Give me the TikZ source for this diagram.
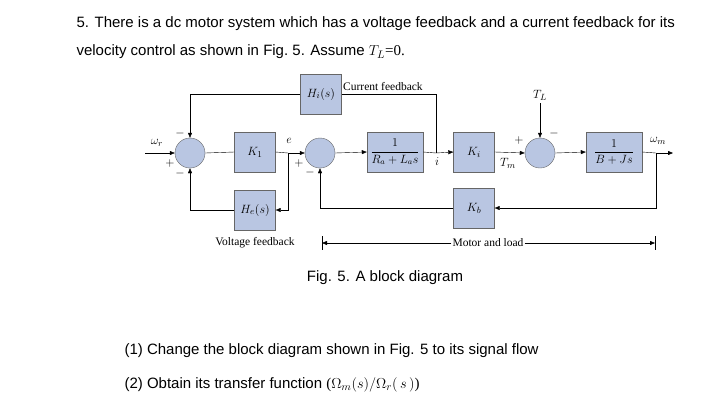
\documentclass[tikz,border=0pt]{standalone}
\usepackage{amsmath}
\usepackage{fontspec}
\setmainfont{Liberation Serif}
\newfontfamily\txt{Liberation Sans}
\usetikzlibrary{arrows.meta}
\definecolor{boxblue}{HTML}{B9C6E2}
\begin{document}
\begin{tikzpicture}[x=1pt,y=-1pt,
blocknode/.style={draw=black!60, fill=boxblue, minimum width=41pt, minimum height=40pt, inner sep=1pt, font=\fontsize{12.5}{14}\selectfont},
widenode/.style={blocknode, minimum width=56pt, font=\fontsize{11.5}{13}\selectfont},
sumnode/.style={circle, draw=black!60, fill=boxblue, minimum size=30pt, inner sep=0pt},
lbl/.style={font=\fontsize{12.5}{14}\selectfont, inner sep=1pt},
note/.style={inner sep=1pt, font=\fontsize{11.5}{13}\selectfont},
say/.style={font=\txt\fontsize{15}{17}\selectfont},
sig/.style={-{Triangle[length=5pt,width=4pt]}},
]
\useasboundingbox (0,0) rectangle (720,416);
%Text
\node[say, anchor=west] (q1) at (73,24) {5. There is a dc motor system which has a voltage feedback and a current feedback for its};
\node[say, anchor=west] (q2) at (73,52) {velocity control as shown in Fig.~5. Assume \rmfamily$T_L$=0.};
\node[say] (cap) at (385,278) {Fig. 5. A block diagram};
\node[say, anchor=west] (p1) at (121,351) {(1) Change the block diagram shown in Fig. 5 to its signal flow};
\node[say, anchor=west] (p2) at (121,385) {(2) Obtain its transfer function \rmfamily($\Omega_m(s)/\Omega_r(\,s\,)$)};

%Nodes
\coordinate (in) at (145,153);
\node[sumnode]   (s1) at (190,153) {};
\node[blocknode] (k1) at (255,152) {$K_1$};
\coordinate (e) at (288,153);
\node[sumnode]   (s2) at (320,153) {};
\node[widenode]  (ra) at (395,152) {$\dfrac{1}{R_a+L_as}$};
\coordinate (ci) at (436,153);
\node[blocknode] (ki) at (474,152) {$K_i$};
\node[sumnode]   (s3) at (540,153) {};
\node[widenode]  (bj) at (614,152) {$\dfrac{1}{B+Js}$};
\coordinate (wm) at (656,153);
\coordinate (out) at (673,153);
\coordinate (tl) at (540,103);
\node[blocknode] (hi) at (321,94) {$H_i(s)$};
\node[blocknode] (he) at (255,210) {$H_e(s)$};
\node[blocknode] (kb) at (474,208) {$K_b$};

%Labels
\node[lbl] at (157,143) {$\omega_r$};
\node[lbl] at (289,141) {$e$};
\node[lbl] at (437,162) {$i$};
\node[lbl] at (508,163) {$T_m$};
\node[lbl] at (540,95) {$T_L$};
\node[lbl] at (658,141) {$\omega_m$};
\node[lbl] at (180,133) {$-$};
\node[lbl] at (170,163) {$+$};
\node[lbl] at (180,173) {$-$};
\node[lbl] at (299,163) {$+$};
\node[lbl] at (310,172) {$-$};
\node[lbl] at (519,140) {$+$};
\node[lbl] at (554,133) {$-$};
\node[note, anchor=west] at (342,87) {Current feedback};
\node[note] (vf) at (255,243) {Voltage feedback};
\node[note, fill=white] (ml) at (488,243) {Motor and load};

%Lines
\draw[sig] (in) -- (s1.west);
\draw (s1.east) -- (k1.west);
\draw (k1.east) -- (e);
\draw[sig] (e) -- (s2.west);
\draw[sig] (s2.east) -- (ra.west);
\draw (ra.east) -- (ci);
\draw[sig] (ci) -- (ki.west);
\draw[sig] (ki.east) -- (s3.west);
\draw[sig] (s3.east) -- (bj.west);
\draw (bj.east) -- (wm);
\draw[sig] (wm) -- (out);
\draw[sig] (tl) -- (s3.north);
\draw (ci) |- (hi.east);
\draw[sig] (hi.west) -| (s1.north);
\draw[sig] (e) |- (he.east);
\draw[sig] (he.west) -| (s1.south);
\draw[sig] (wm) |- (kb.east);
\draw[sig] (kb.west) -| (s2.south);
\coordinate (ml1) at (322,243);
\coordinate (ml2) at (655,243);
\draw (322,236) -- (322,250) (655,236) -- (655,250);
\draw[sig] (ml) -- (ml1);
\draw[sig] (ml) -- (ml2);
\end{tikzpicture}
\end{document}
